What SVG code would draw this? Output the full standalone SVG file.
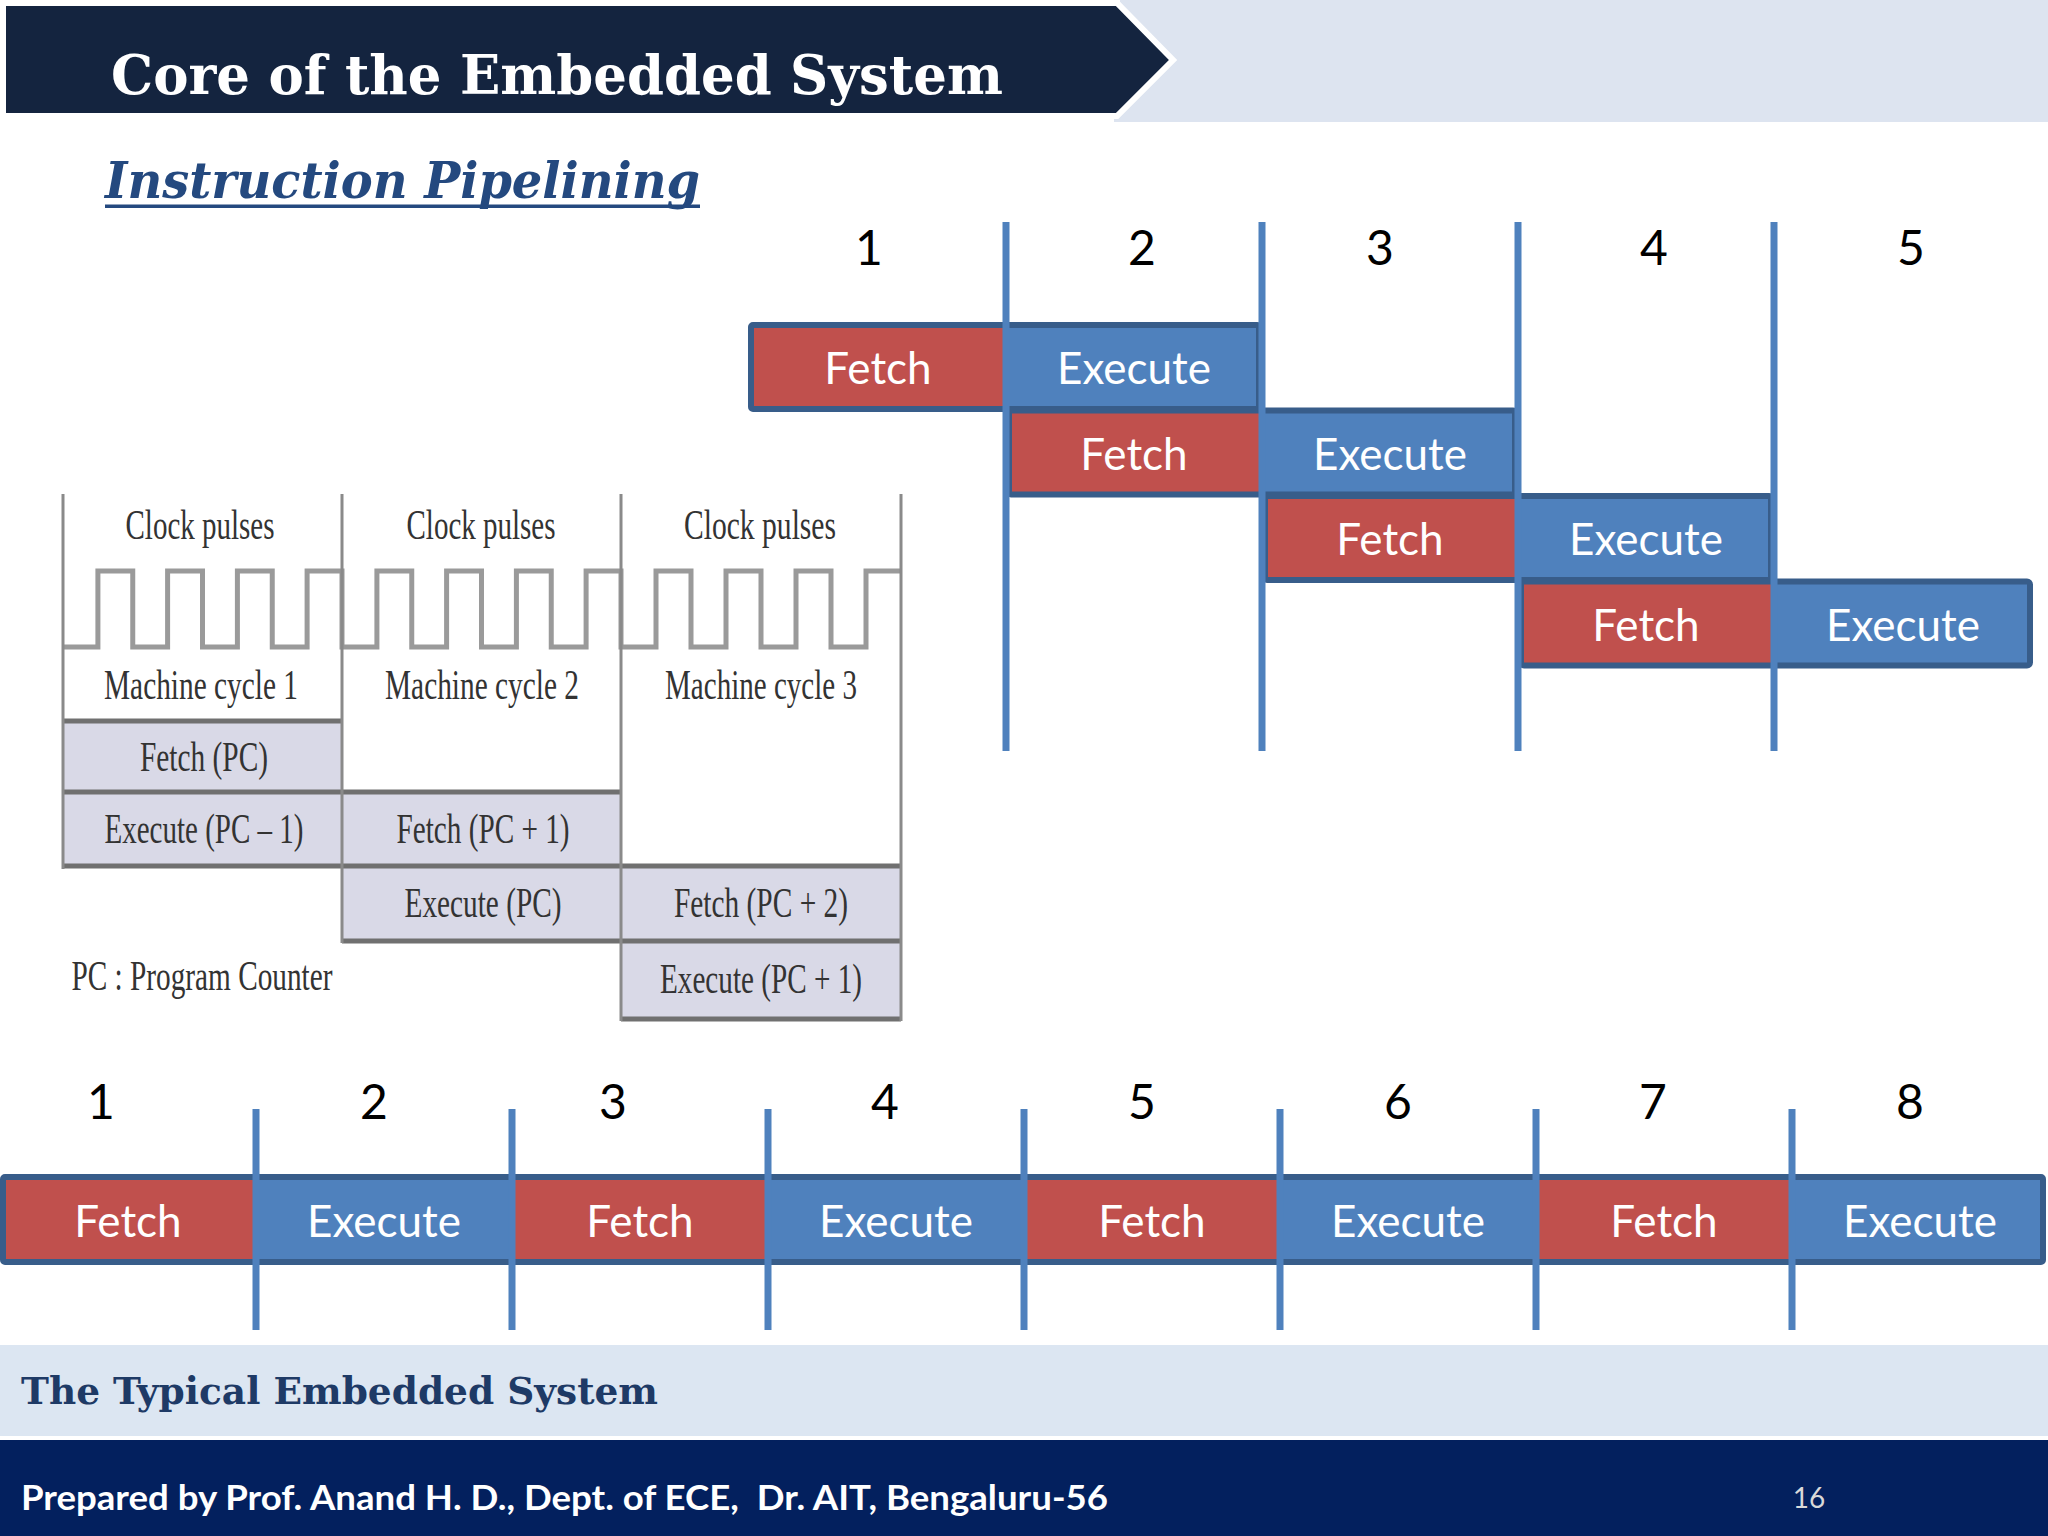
<svg xmlns="http://www.w3.org/2000/svg" width="2048" height="1536" viewBox="0 0 2048 1536">
<style>
.num{font-family:Lato,"Open Sans",sans-serif;font-size:48px;fill:#000;text-anchor:middle}
.cell{font-family:Lato,"Open Sans",sans-serif;font-size:44px;fill:#fff;text-anchor:middle}
.fetch{fill:#c0504d}
.exec{fill:#4f81bd}
.outline{fill:none;stroke:#385d8a;stroke-width:6}
.vline{stroke:#4f81bd;stroke-width:7}
.fig text{font-family:"Liberation Serif","Times New Roman",serif;fill:#333333;text-anchor:middle;font-size:42px}
.shade{fill:#d9d9e7}
.gline{stroke:#707070;stroke-width:5}
.vg{stroke:#8a8a8a;stroke-width:3}
</style>
<rect width="2048" height="1536" fill="#ffffff"/>

<g id="header">
<rect x="1114" y="0" width="934" height="122" fill="#dde4f0"/>
<polygon points="3,3 1117,3 1173,60 1117,116 3,116" fill="#14243f" stroke="#ffffff" stroke-width="6" stroke-linejoin="miter"/>
<rect x="0" y="0" width="1120" height="3" fill="#ffffff"/>
<text x="111" y="94" font-family="'DejaVu Serif',serif" font-weight="bold" font-size="55" fill="#ffffff" textLength="892" lengthAdjust="spacingAndGlyphs">Core of the Embedded System</text>
</g>

<g id="subtitle">
<text x="105" y="198" font-family="'DejaVu Serif',serif" font-weight="bold" font-style="italic" font-size="50" fill="#24497f" textLength="595" lengthAdjust="spacingAndGlyphs">Instruction Pipelining</text>
<rect x="105" y="204.5" width="595" height="3.5" fill="#24497f"/>
</g>

<g id="pipelined-chart">
<g id="top-numbers">
<text class="num" x="869" y="265">1</text>
<text class="num" x="1142" y="265">2</text>
<text class="num" x="1380" y="265">3</text>
<text class="num" x="1654" y="265">4</text>
<text class="num" x="1911" y="265">5</text>
</g>
<g id="row1">
<rect class="fetch" x="751" y="325" width="255" height="84"/>
<rect class="exec" x="1006" y="325" width="253" height="84"/>
<rect class="outline" x="751" y="325" width="508" height="84" rx="2"/>
<text class="cell" x="878" y="384">Fetch</text>
<text class="cell" x="1134" y="384">Execute</text>
</g>
<g id="row2">
<rect class="fetch" x="1009" y="410.5" width="253" height="84"/>
<rect class="exec" x="1262" y="410.5" width="253" height="84"/>
<rect class="outline" x="1009" y="410.5" width="506" height="84" rx="2"/>
<text class="cell" x="1134" y="469.5">Fetch</text>
<text class="cell" x="1390" y="469.5">Execute</text>
</g>
<g id="row3">
<rect class="fetch" x="1265" y="496" width="253" height="84"/>
<rect class="exec" x="1518" y="496" width="253" height="84"/>
<rect class="outline" x="1265" y="496" width="506" height="84" rx="2"/>
<text class="cell" x="1390" y="555">Fetch</text>
<text class="cell" x="1646" y="555">Execute</text>
</g>
<g id="row4">
<rect class="fetch" x="1521" y="581.5" width="253" height="84"/>
<rect class="exec" x="1774" y="581.5" width="256" height="84"/>
<rect class="outline" x="1521" y="581.5" width="509" height="84" rx="3"/>
<text class="cell" x="1646" y="640.5">Fetch</text>
<text class="cell" x="1903" y="640.5">Execute</text>
</g>
<g id="top-gridlines">
<line class="vline" x1="1006" y1="222" x2="1006" y2="751"/>
<line class="vline" x1="1262" y1="222" x2="1262" y2="751"/>
<line class="vline" x1="1518" y1="222" x2="1518" y2="751"/>
<line class="vline" x1="1774" y1="222" x2="1774" y2="751"/>
</g>
</g>

<g id="clock-figure" class="fig">
<rect class="shade" x="63" y="721" width="279" height="145"/>
<rect class="shade" x="342" y="792" width="279" height="149"/>
<rect class="shade" x="621" y="866" width="280" height="153"/>
<path d="M63,647 H97.9 V571 H132.75 V647 H167.6 V571 H202.5 V647 H237.4 V571 H272.25 V647 H307.1 V571 H342 V647 H376.9 V571 H411.75 V647 H446.6 V571 H481.5 V647 H516.4 V571 H551.25 V647 H586.1 V571 H621 V647 H656 V571 H691 V647 H726 V571 H761 V647 H796 V571 H831 V647 H866 V571 H901" fill="none" stroke="#9a9a9a" stroke-width="5"/>
<line class="gline" x1="63" y1="721" x2="342" y2="721"/>
<line class="gline" x1="63" y1="792" x2="621" y2="792"/>
<line class="gline" x1="63" y1="866" x2="901" y2="866"/>
<line class="gline" x1="342" y1="941" x2="901" y2="941"/>
<line class="gline" x1="621" y1="1019" x2="901" y2="1019"/>
<line class="vg" x1="63" y1="494" x2="63" y2="869"/>
<line class="vg" x1="342" y1="494" x2="342" y2="943"/>
<line class="vg" x1="621" y1="494" x2="621" y2="1021"/>
<line class="vg" x1="901" y1="494" x2="901" y2="1021"/>
<text x="200" y="539" textLength="149" lengthAdjust="spacingAndGlyphs">Clock pulses</text>
<text x="481" y="539" textLength="149" lengthAdjust="spacingAndGlyphs">Clock pulses</text>
<text x="760" y="539" textLength="152" lengthAdjust="spacingAndGlyphs">Clock pulses</text>
<text x="201" y="699" font-size="46" textLength="194" lengthAdjust="spacingAndGlyphs">Machine cycle 1</text>
<text x="482" y="699" font-size="46" textLength="194" lengthAdjust="spacingAndGlyphs">Machine cycle 2</text>
<text x="761" y="699" font-size="46" textLength="192" lengthAdjust="spacingAndGlyphs">Machine cycle 3</text>
<text x="204" y="771" font-size="44" textLength="128" lengthAdjust="spacingAndGlyphs">Fetch (PC)</text>
<text x="204" y="843" font-size="44" textLength="199" lengthAdjust="spacingAndGlyphs">Execute (PC – 1)</text>
<text x="483" y="843" font-size="44" textLength="173" lengthAdjust="spacingAndGlyphs">Fetch (PC + 1)</text>
<text x="483" y="917" font-size="44" textLength="157" lengthAdjust="spacingAndGlyphs">Execute (PC)</text>
<text x="761" y="917" font-size="44" textLength="174" lengthAdjust="spacingAndGlyphs">Fetch (PC + 2)</text>
<text x="761" y="993" font-size="44" textLength="202" lengthAdjust="spacingAndGlyphs">Execute (PC + 1)</text>
<text x="202" y="990" font-size="44" textLength="261" lengthAdjust="spacingAndGlyphs">PC : Program Counter</text>
</g>

<g id="sequential-chart">
<g id="bottom-numbers">
<text class="num" x="101" y="1119">1</text>
<text class="num" x="374" y="1119">2</text>
<text class="num" x="613" y="1119">3</text>
<text class="num" x="885" y="1119">4</text>
<text class="num" x="1142" y="1119">5</text>
<text class="num" x="1398" y="1119">6</text>
<text class="num" x="1653" y="1119">7</text>
<text class="num" x="1910" y="1119">8</text>
</g>
<g id="bottom-bar">
<rect class="fetch" x="3" y="1177" width="253" height="85"/>
<rect class="exec" x="256" y="1177" width="256" height="85"/>
<rect class="fetch" x="512" y="1177" width="256" height="85"/>
<rect class="exec" x="768" y="1177" width="256" height="85"/>
<rect class="fetch" x="1024" y="1177" width="256" height="85"/>
<rect class="exec" x="1280" y="1177" width="256" height="85"/>
<rect class="fetch" x="1536" y="1177" width="256" height="85"/>
<rect class="exec" x="1792" y="1177" width="251" height="85"/>
<rect class="outline" x="3" y="1177" width="2040" height="85" rx="2"/>
<text class="cell" x="128" y="1237">Fetch</text>
<text class="cell" x="384" y="1237">Execute</text>
<text class="cell" x="640" y="1237">Fetch</text>
<text class="cell" x="896" y="1237">Execute</text>
<text class="cell" x="1152" y="1237">Fetch</text>
<text class="cell" x="1408" y="1237">Execute</text>
<text class="cell" x="1664" y="1237">Fetch</text>
<text class="cell" x="1920" y="1237">Execute</text>
</g>
<g id="bottom-gridlines">
<line class="vline" x1="256" y1="1109" x2="256" y2="1330"/>
<line class="vline" x1="512" y1="1109" x2="512" y2="1330"/>
<line class="vline" x1="768" y1="1109" x2="768" y2="1330"/>
<line class="vline" x1="1024" y1="1109" x2="1024" y2="1330"/>
<line class="vline" x1="1280" y1="1109" x2="1280" y2="1330"/>
<line class="vline" x1="1536" y1="1109" x2="1536" y2="1330"/>
<line class="vline" x1="1792" y1="1109" x2="1792" y2="1330"/>
</g>
</g>

<g id="footer">
<rect x="0" y="1345" width="2048" height="91" fill="#dce6f2"/>
<text x="21" y="1404" font-family="'DejaVu Serif',serif" font-weight="bold" font-size="38" fill="#1e3a66" textLength="637" lengthAdjust="spacingAndGlyphs">The Typical Embedded System</text>
<rect x="0" y="1440" width="2048" height="96" fill="#03205e"/>
<text x="21" y="1510" font-family="Lato,'Open Sans',sans-serif" font-weight="bold" font-size="34" fill="#ffffff" textLength="1087" lengthAdjust="spacingAndGlyphs">Prepared by Prof. Anand H. D., Dept. of ECE,&#160; Dr. AIT, Bengaluru-56</text>
<text x="1809" y="1508" font-family="Lato,'Open Sans',sans-serif" font-size="28" fill="#d9d9d9" text-anchor="middle">16</text>
</g>
</svg>
